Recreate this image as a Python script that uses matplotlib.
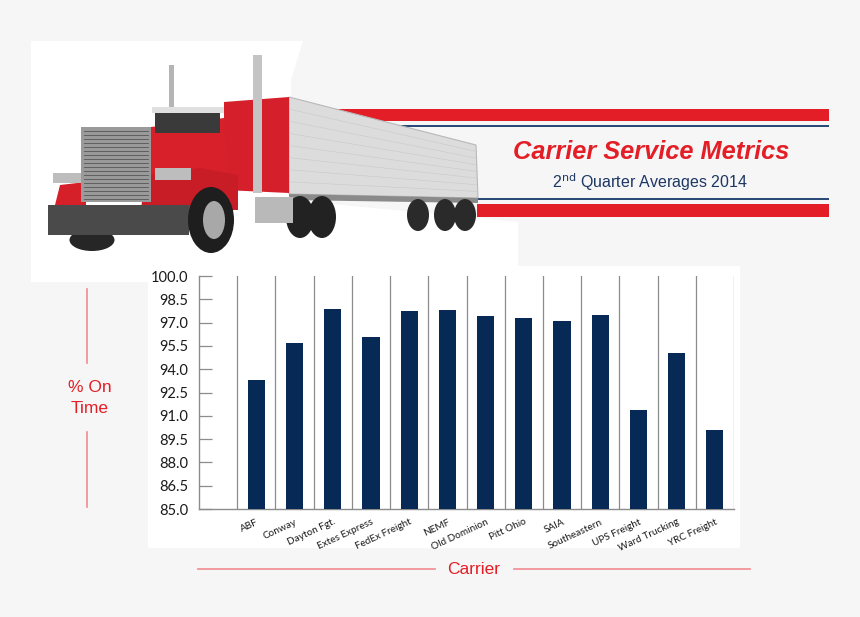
import matplotlib.pyplot as plt
import matplotlib.patches as mpatches
import numpy as np

# data
carriers = ['ABF', 'Conway', 'Dayton Fgt.', 'Extes Express', 'FedEx Freight', 'NEMF',
            'Old Dominion', 'Pitt Ohio', 'SAIA', 'Southeastern', 'UPS Freight',
            'Ward Trucking', 'YRC Freight']
on_time = [93.3, 95.7, 97.9, 96.1, 97.75, 97.8, 97.45, 97.3, 97.1, 97.5, 91.4, 95.05, 90.1]
y_ticks = [85.0, 86.5, 88.0, 89.5, 91.0, 92.5, 94.0, 95.5, 97.0, 98.5, 100.0]

W, H = 860, 617
RED = '#e31e26'
NAVY = '#062a55'
BG = '#f6f6f6'

fig = plt.figure(figsize=(W / 100, H / 100), dpi=100)
fig.patch.set_facecolor(BG)

# full-figure axes in pixel coords for the decoration
bg = fig.add_axes([0, 0, 1, 1])
bg.set_xlim(0, W)
bg.set_ylim(H, 0)
bg.axis('off')
bg.set_facecolor(BG)


def poly(pts, color, z, ec='none', lw=0):
    bg.add_patch(mpatches.Polygon(pts, closed=True, fc=color, ec=ec, lw=lw, zorder=z))


def rect(x0, y0, x1, y1, color, z, ec='none', lw=0):
    bg.add_patch(mpatches.Rectangle((x0, y0), x1 - x0, y1 - y0, fc=color, ec=ec, lw=lw, zorder=z))


def ell(cx, cy, w, h, color, z):
    bg.add_patch(mpatches.Ellipse((cx, cy), w, h, fc=color, ec='none', zorder=z))


# white panels
rect(148, 266, 740, 548, 'white', 1)
poly([(31, 41), (303, 41), (291, 80), (291, 200), (518, 222), (518, 266),
      (148, 266), (148, 282), (31, 282)], 'white', 1)

# banner stripes
rect(300, 109, 829, 121, RED, 2)
rect(300, 125.2, 829, 126.8, '#2a4a78', 2)
rect(477, 198.2, 829, 199.8, '#2a4a78', 2)
rect(477, 204, 829, 216.5, RED, 2)

# simple truck sketch
poly([(289, 97), (476, 145), (478, 198), (289, 194)], '#dcdcdc', 3, ec='#b8b8b8', lw=0.8)
for k in range(1, 8):
    t = k / 8
    bg.plot([289, 477], [97 + t * 97, 145 + t * 53], color='#c9c9c9', lw=0.4, zorder=3)
poly([(289, 194), (478, 198), (478, 203), (289, 200)], '#8a8a8a', 3)
poly([(224, 102), (289, 97), (289, 193), (224, 190)], '#d5202b', 4)
poly([(151, 127), (224, 118), (230, 187), (151, 190)], '#d72029', 4)
rect(155, 112, 220, 133, '#3a3a3a', 5)
rect(152, 107, 224, 113, '#e0e0e0', 5)
poly([(55, 205), (60, 185), (86, 182), (86, 205)], '#d52029', 4)
poly([(141, 210), (145, 175), (200, 168), (238, 175), (238, 210)], '#c81d26', 5)
rect(81, 127, 151, 202, '#9a9a9a', 5)
for yy in np.arange(131, 200, 4):
    bg.plot([84, 148], [yy, yy], color='#555555', lw=0.6, zorder=6)
rect(53, 173, 81, 183, '#bdbdbd', 6)
rect(155, 168, 191, 180, '#bdbdbd', 6)
rect(169, 65, 174, 110, '#b5b5b5', 4)
rect(253, 55, 262, 193, '#c4c4c4', 6)
rect(255, 197, 293, 223, '#b9b9b9', 6)
ell(92, 240, 45, 22, '#262626', 6)
rect(48, 205, 189, 235, '#4a4a4a', 7)
for wx in (300, 322):
    ell(wx, 217, 28, 42, '#222222', 5)
for wx in (418, 445, 465):
    ell(wx, 215, 22, 32, '#2a2a2a', 4)
ell(211, 220, 46, 66, '#1e1e1e', 8)
ell(214, 220, 22, 38, '#a8a8a8', 9)

# titles
bg.text(651, 152, 'Carrier Service Metrics', color=RED, fontsize=18.3,
        fontweight='bold', fontstyle='italic', family='Liberation Sans',
        ha='center', va='center', zorder=10)
bg.text(650.5, 182, r'2$^{\mathrm{nd}}$ Quarter Averages 2014', color='#1d3763',
        fontsize=11.5, family='Liberation Sans', ha='center', va='center', zorder=10)

# axis titles with red rules
rule = '#f08a8f'
bg.plot([87.3, 87.3], [289, 363], color=rule, lw=1.2, zorder=2)
bg.plot([87.3, 87.3], [432, 507], color=rule, lw=1.2, zorder=2)
bg.text(90, 398, '% On\nTime', color=RED, fontsize=12.5, family='Liberation Sans',
        ha='center', va='center', linespacing=1.45, zorder=10)
bg.plot([198, 435], [569, 569], color=rule, lw=1.2, zorder=2)
bg.plot([514, 750], [569, 569], color=rule, lw=1.2, zorder=2)
bg.text(474, 569, 'Carrier', color=RED, fontsize=12.5, family='Liberation Sans',
        ha='center', va='center', zorder=10)

# bar chart
left, right, top, bottom = 199, 734, 276, 509
ax = fig.add_axes([left / W, (H - bottom) / H, (right - left) / W, (bottom - top) / H])
ax.patch.set_alpha(0)
x = np.arange(len(carriers))
ax.bar(x, [v - 85 for v in on_time], width=0.45, bottom=85, color=NAVY, zorder=3)
ax.set_xlim(-1.5, len(carriers) - 0.5)
ax.set_ylim(85, 100)
for gx in np.arange(-0.5, len(carriers), 1.0):
    ax.axvline(gx, color='#8c8c8c', lw=0.9, zorder=1)

ax.set_yticks(y_ticks)
ax.set_yticklabels([f'{t:.1f}' for t in y_ticks], family='Lato', fontsize=10.5, color='#1a1a1a')
ax.tick_params(axis='y', direction='in', length=9.5, width=0.9, color='#8c8c8c', pad=8)
ax.set_xticks(x)
ax.set_xticklabels(carriers, rotation=25, ha='right', rotation_mode='anchor',
                   family='Lato', fontsize=7.2, color='#1a1a1a')
ax.tick_params(axis='x', length=0, pad=6)
for s in ('top', 'right'):
    ax.spines[s].set_visible(False)
for s in ('left', 'bottom'):
    ax.spines[s].set_color('#8c8c8c')
    ax.spines[s].set_linewidth(1.0)

fig.savefig('out.png', dpi=100, facecolor=BG)
